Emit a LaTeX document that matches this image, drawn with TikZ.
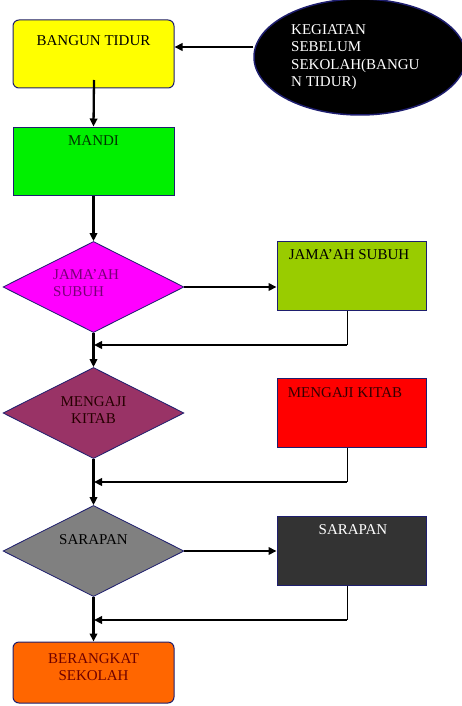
\documentclass[tikz,border=0pt]{standalone}
\usepackage{fontspec}
\setmainfont{Liberation Serif}
\usetikzlibrary{shapes.geometric,arrows.meta}
\definecolor{bord}{RGB}{30,30,110}
\definecolor{cyellow}{RGB}{255,255,0}
\definecolor{cgreen}{RGB}{0,240,0}
\definecolor{cmag}{RGB}{255,0,255}
\definecolor{clime}{RGB}{153,204,0}
\definecolor{cplum}{RGB}{153,51,102}
\definecolor{cred}{RGB}{255,0,0}
\definecolor{cgray}{RGB}{128,128,128}
\definecolor{cdark}{RGB}{51,51,51}
\definecolor{corange}{RGB}{255,102,0}
\definecolor{cpurple}{RGB}{120,0,120}
\definecolor{cmaroon}{RGB}{110,0,0}
\tikzset{
  box/.style={draw=bord, line width=1pt, inner sep=0pt, minimum width=161pt, minimum height=68pt},
  rbox/.style={box, rounded corners=6pt},
  sidebox/.style={draw=bord, line width=1pt, inner sep=0pt, minimum width=149pt, minimum height=69pt},
  dia/.style={draw=bord, line width=0.8pt, diamond, inner sep=0pt, minimum width=181pt, minimum height=91pt},
  txt/.style={font=\fontsize{15}{17.5}\selectfont, inner sep=0pt, align=left},
  arr/.style={line width=2.3pt, -{Triangle[length=8pt,width=7.5pt]}},
  thin/.style={line width=1pt}
}
\begin{document}
\begin{tikzpicture}[x=1pt,y=-1pt]
\useasboundingbox (0,0) rectangle (462,706);
% shapes
\node[ellipse, draw=bord, line width=1.5pt, fill=black, minimum width=212pt, minimum height=116pt, inner sep=0pt] (ell) at (360,57) {};
\node[rbox, fill=cyellow] (bt) at (93.5,54) {};
\node[box, fill=cgreen] (mandi) at (93.5,161) {};
\node[dia, fill=cmag] (d1) at (93.5,287) {};
\node[sidebox, fill=clime] (s1) at (351.5,275.5) {};
\node[dia, fill=cplum] (d2) at (93.5,413) {};
\node[sidebox, fill=cred] (s2) at (351.5,413) {};
\node[dia, fill=cgray] (d3) at (93.5,551) {};
\node[sidebox, fill=cdark] (s3) at (351.5,550.5) {};
\node[rbox, fill=corange, minimum height=61pt] (bs) at (93.5,672.5) {};
% texts
\node[txt, text=white, anchor=north west] (tell) at (291,24) {KEGIATAN\\SEBELUM\\SEKOLAH(BANGU\\N TIDUR)};
\node[txt, anchor=center] (tbt) at (93.5,41) {BANGUN TIDUR};
\node[txt, text=black!80!green, anchor=center] (tmandi) at (93.5,141) {MANDI};
\node[txt, text=cpurple, anchor=north west] (td1) at (53,269) {JAMA'AH\\SUBUH};
\node[txt, anchor=center] (ts1) at (349,255) {JAMA'AH SUBUH};
\node[txt, text=black!85!red, align=center, anchor=north] (td2) at (93.5,396) {MENGAJI\\KITAB};
\node[txt, text=black!80!red, anchor=center] (ts2) at (345,393) {MENGAJI KITAB};
\node[txt, anchor=center] (td3) at (93.5,540) {SARAPAN};
\node[txt, text=white, anchor=center] (ts3) at (353,530) {SARAPAN};
\node[txt, text=cmaroon, align=center, anchor=north] (tbs) at (93.5,653) {BERANGKAT\\SEKOLAH};
% connectors
\coordinate (j1) at (94,345);
\coordinate (j2) at (94,482);
\coordinate (j3) at (94,620);
\coordinate (c1) at (347,345);
\coordinate (c2) at (347,482);
\coordinate (c3) at (347,620);
\draw[arr] (ell.west |- 0,47) -- (bt.east |- 0,47);
\draw[arr] (94,80) -- (mandi.north);
\draw[arr] (mandi.south) -- (d1.north);
\draw[arr] (d1.east) -- (s1.west |- d1.east);
\draw[thin] (s1.south -| c1) -- (c1);
\draw[arr] (c1) -- (j1);
\draw[arr] (d1.south) -- (d2.north);
\draw[thin] (s2.south -| c2) -- (c2);
\draw[arr] (c2) -- (j2);
\draw[arr] (d2.south) -- (d3.north);
\draw[arr] (d3.east) -- (s3.west |- d3.east);
\draw[thin] (s3.south -| c3) -- (c3);
\draw[arr] (c3) -- (j3);
\draw[arr] (d3.south) -- (bs.north);
\end{tikzpicture}
\end{document}
